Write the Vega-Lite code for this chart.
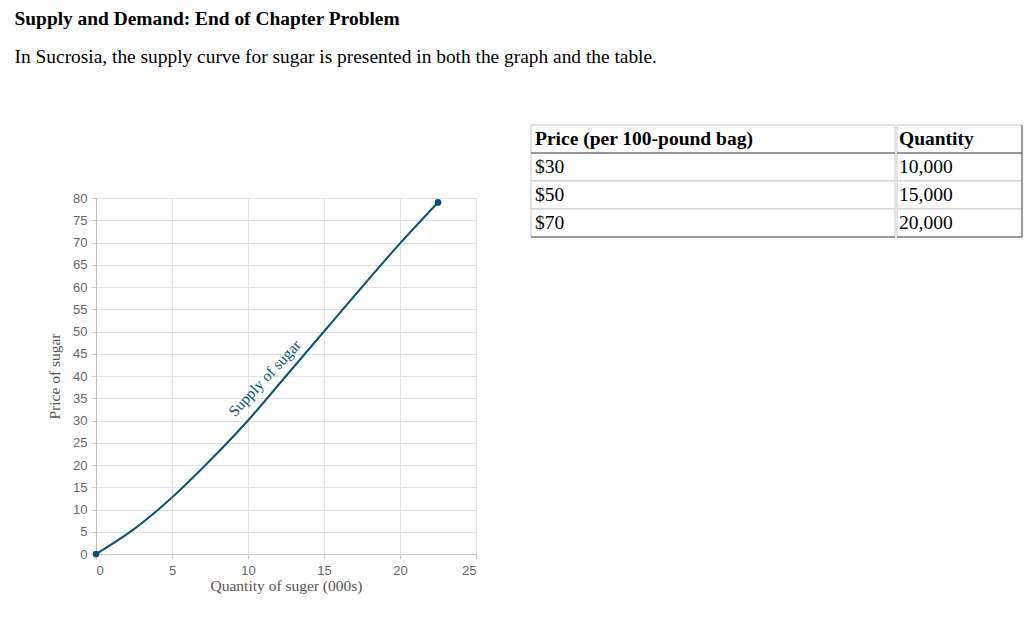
{
  "$schema": "https://vega.github.io/schema/vega-lite/v6.json",
  "background": "white",
  "padding": {"left": 14, "top": 8, "right": 4, "bottom": 10},
  "title": {
    "text": "Supply and Demand: End of Chapter Problem",
    "subtitle": "In Sucrosia, the supply curve for sugar is presented in both the graph and the table.",
    "anchor": "start",
    "offset": 57,
    "dx": -33
  },
  "config": {
    "view": {"stroke": null},
    "title": {
      "font": "Liberation Serif",
      "fontSize": 19.4,
      "fontWeight": "bold",
      "color": "#000000",
      "subtitleFont": "Liberation Serif",
      "subtitleFontSize": 19.4,
      "subtitleFontWeight": "normal",
      "subtitleColor": "#000000",
      "subtitlePadding": 19
    }
  },
  "datasets": {
    "supply": [
      {"q": 0, "p": 0},
      {"q": 2.5, "p": 5.6},
      {"q": 5, "p": 12.7},
      {"q": 7.5, "p": 21.0},
      {"q": 10, "p": 30.0},
      {"q": 12.5, "p": 40.0},
      {"q": 15, "p": 50.0},
      {"q": 17.5, "p": 60.0},
      {"q": 20, "p": 69.8},
      {"q": 22.5, "p": 79.0}
    ],
    "table": [
      {"kind": "header", "price": "Price (per 100-pound bag)", "quantity": "Quantity"},
      {"kind": "row", "price": "$30", "quantity": "10,000"},
      {"kind": "row", "price": "$50", "quantity": "15,000"},
      {"kind": "row", "price": "$70", "quantity": "20,000"}
    ]
  },
  "spacing": 53,
  "hconcat": [
    {
      "spacing": 0,
      "vconcat": [
        {
          "width": 1,
          "height": 67,
          "data": {"values": [{"blank": ""}]},
          "mark": {"type": "text", "opacity": 0},
          "encoding": {"text": {"field": "blank"}}
        },
        {
          "width": 380,
          "height": 356,
          "data": {"name": "supply"},
          "encoding": {
            "x": {
              "field": "q", "type": "quantitative",
              "scale": {"domain": [0, 25], "nice": false},
              "title": "Quantity of suger (000s)",
              "axis": {
                "values": [0, 5, 10, 15, 20, 25],
                "grid": true, "gridColor": "#e0e0e0",
                "domainColor": "#cccccc", "tickColor": "#cccccc", "tickSize": 5,
                "labelFont": "Liberation Sans", "labelFontSize": 13, "labelColor": "#666666", "labelPadding": 5,
                "titleFont": "Liberation Serif", "titleFontSize": 15.5, "titleFontWeight": "normal", "titleColor": "#555555", "titlePadding": 1
              }
            },
            "y": {
              "field": "p", "type": "quantitative",
              "scale": {"domain": [0, 80], "nice": false},
              "title": "Price of sugar",
              "axis": {
                "values": [0, 5, 10, 15, 20, 25, 30, 35, 40, 45, 50, 55, 60, 65, 70, 75, 80],
                "grid": true, "gridColor": "#e0e0e0",
                "domainColor": "#bbbbbb", "tickColor": "#cccccc", "tickSize": 5,
                "labelFont": "Liberation Sans", "labelFontSize": 13, "labelColor": "#666666", "labelPadding": 4,
                "titleFont": "Liberation Serif", "titleFontSize": 15.5, "titleFontWeight": "normal", "titleColor": "#555555", "titlePadding": 10
              }
            }
          },
          "layer": [
            {
              "mark": {"type": "line", "interpolate": "monotone", "color": "#0b5274", "strokeWidth": 2}
            },
            {
              "transform": [{"filter": "datum.q == 0 || datum.q == 22.5"}],
              "mark": {"type": "point", "filled": true, "size": 45, "color": "#0b5274", "opacity": 1}
            },
            {
              "data": {"values": [{"label": "Supply of sugar", "q": 11.1, "p": 39.5}]},
              "mark": {"type": "text", "angle": -47, "font": "Liberation Serif", "fontSize": 15.5, "color": "#0b5274", "align": "center", "baseline": "middle"},
              "encoding": {"text": {"field": "label"}}
            }
          ]
        }
      ]
    },
    {
      "spacing": 0,
      "hconcat": [
        {
          "width": 364,
          "height": 112,
          "data": {"name": "table"},
          "encoding": {
            "y": {"field": "price", "type": "ordinal", "sort": null, "axis": null, "scale": {"paddingInner": 0, "paddingOuter": 0}}
          },
          "layer": [
            {
              "mark": {"type": "rect", "fill": "white", "stroke": "#c8c8c8", "strokeWidth": 1},
              "encoding": {"x": {"datum": "P", "type": "nominal", "axis": null, "scale": {"paddingInner": 0, "paddingOuter": 0}}}
            },
            {
              "transform": [{"filter": "datum.kind == 'header'"}],
              "mark": {"type": "text", "align": "left", "baseline": "middle", "dx": 4, "font": "Liberation Serif", "fontSize": 19.5, "fontWeight": "bold", "color": "#000000"},
              "encoding": {"x": {"datum": "P", "type": "nominal", "bandPosition": 0}, "text": {"field": "price"}}
            },
            {
              "transform": [{"filter": "datum.kind == 'row'"}],
              "mark": {"type": "text", "align": "left", "baseline": "middle", "dx": 4, "font": "Liberation Serif", "fontSize": 19.5, "color": "#000000"},
              "encoding": {"x": {"datum": "P", "type": "nominal", "bandPosition": 0}, "text": {"field": "price"}}
            },
            {
              "transform": [{"filter": "datum.kind == 'header' || datum.price == '$70'"}],
              "mark": {"type": "rule", "color": "#555555", "strokeWidth": 1},
              "encoding": {"y": {"field": "price", "type": "ordinal", "sort": null, "bandPosition": 1}}
            }
          ]
        },
        {
          "width": 125,
          "height": 112,
          "data": {"name": "table"},
          "encoding": {
            "y": {"field": "price", "type": "ordinal", "sort": null, "axis": null, "scale": {"paddingInner": 0, "paddingOuter": 0}}
          },
          "layer": [
            {
              "mark": {"type": "rect", "fill": "white", "stroke": "#c8c8c8", "strokeWidth": 1},
              "encoding": {"x": {"datum": "Q", "type": "nominal", "axis": null, "scale": {"paddingInner": 0, "paddingOuter": 0}}}
            },
            {
              "transform": [{"filter": "datum.kind == 'header'"}],
              "mark": {"type": "text", "align": "left", "baseline": "middle", "dx": 2, "font": "Liberation Serif", "fontSize": 19.5, "fontWeight": "bold", "color": "#000000"},
              "encoding": {"x": {"datum": "Q", "type": "nominal", "bandPosition": 0}, "text": {"field": "quantity"}}
            },
            {
              "transform": [{"filter": "datum.kind == 'row'"}],
              "mark": {"type": "text", "align": "left", "baseline": "middle", "dx": 2, "font": "Liberation Serif", "fontSize": 19.5, "color": "#000000"},
              "encoding": {"x": {"datum": "Q", "type": "nominal", "bandPosition": 0}, "text": {"field": "quantity"}}
            },
            {
              "transform": [{"filter": "datum.kind == 'header' || datum.price == '$70'"}],
              "mark": {"type": "rule", "color": "#555555", "strokeWidth": 1},
              "encoding": {"y": {"field": "price", "type": "ordinal", "sort": null, "bandPosition": 1}}
            },
            {
              "mark": {"type": "rule", "color": "#555555", "strokeWidth": 1},
              "encoding": {
                "x": {"datum": "Q", "type": "nominal", "bandPosition": 1},
                "y": {"field": "price", "type": "ordinal", "sort": null, "bandPosition": 0},
                "y2": {"field": "price", "bandPosition": 1}
              }
            }
          ]
        }
      ]
    }
  ]
}
